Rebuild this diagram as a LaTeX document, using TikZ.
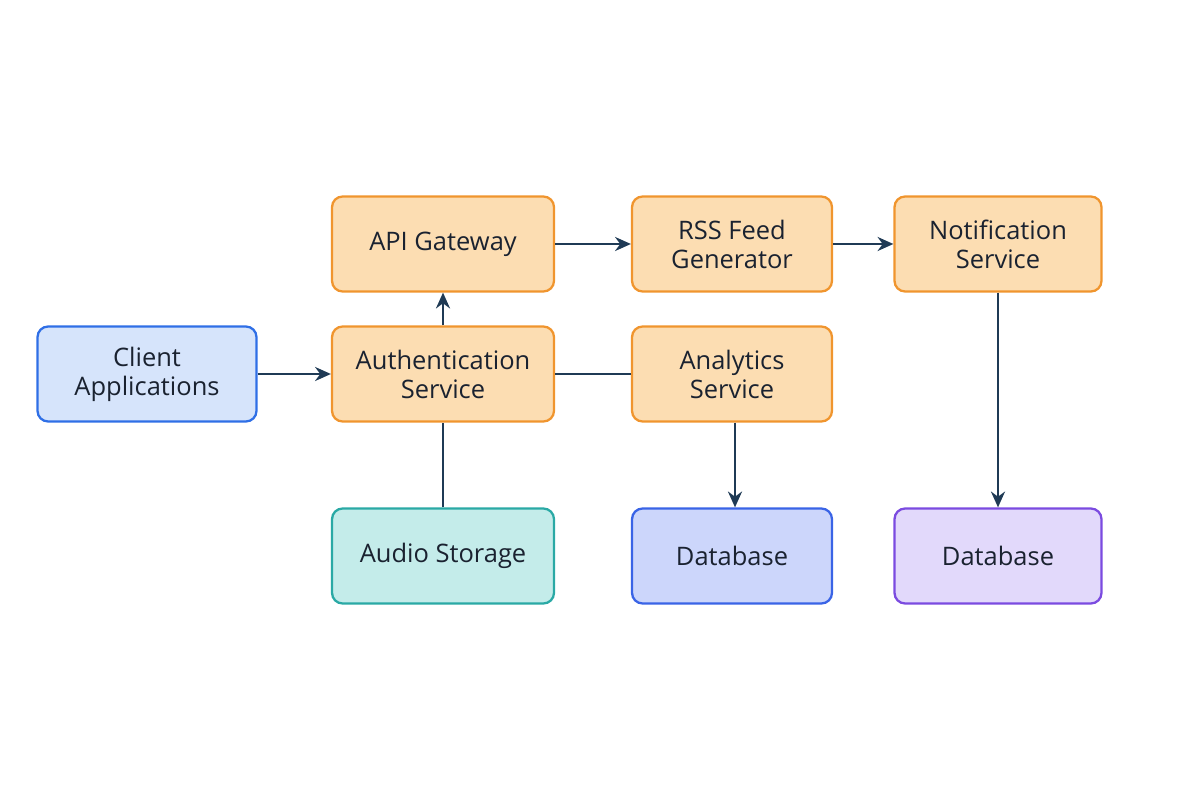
\documentclass[tikz,border=0pt]{standalone}
\usepackage{fontspec}
\setmainfont{Open Sans}
\usetikzlibrary{arrows.meta}
\definecolor{ofill}{HTML}{FCDDB2}\definecolor{odraw}{HTML}{F0952E}
\definecolor{bfill}{HTML}{D6E4FB}\definecolor{bdraw}{HTML}{2F6FE6}
\definecolor{tfill}{HTML}{C4ECEA}\definecolor{tdraw}{HTML}{2AA9A5}
\definecolor{dfill}{HTML}{CCD6FB}\definecolor{ddraw}{HTML}{3A64E6}
\definecolor{pfill}{HTML}{E2D9FB}\definecolor{pdraw}{HTML}{7B4BE0}
\definecolor{arr}{HTML}{1F3A55}
\definecolor{txt}{HTML}{1A2230}
\begin{document}
\begin{tikzpicture}[x=0.02cm,y=-0.02cm,
 box/.style={draw,line width=1.3pt,rounded corners=6pt,align=center,inner sep=0pt,font=\fontsize{14.5}{16.5}\selectfont,text=txt},
 wide/.style={box,minimum width=4.44cm,minimum height=1.9cm},
 mid/.style={box,minimum width=4cm,minimum height=1.9cm},
 wn/.style={box,minimum width=4.14cm,minimum height=1.9cm},
 cl/.style={box,minimum width=4.38cm,minimum height=1.9cm},
 orange/.style={fill=ofill,draw=odraw},
 a/.style={draw=arr,line width=1.3pt,-{Stealth[length=9pt,width=8pt]}},
 l/.style={draw=arr,line width=1.3pt}]
\useasboundingbox (0,0) rectangle (1200,800);
\node[cl,fill=bfill,draw=bdraw] (client) at (147,374) {Client\\Applications};
\node[wide,orange] (api) at (443,244) {API Gateway};
\node[mid,orange] (rss) at (732,244) {RSS Feed\\Generator};
\node[wn,orange] (notif) at (998,244) {Notification\\Service};
\node[wide,orange] (auth) at (443,374) {Authentication\\Service};
\node[mid,orange] (ana) at (732,374) {Analytics\\Service};
\node[wide,fill=tfill,draw=tdraw] (audio) at (443,556) {Audio Storage};
\node[mid,fill=dfill,draw=ddraw] (db1) at (732,556) {Database};
\node[wn,fill=pfill,draw=pdraw] (db2) at (998,556) {Database};
\draw[a] (client) -- (auth);
\draw[a] (auth) -- (api);
\draw[a] (api) -- (rss);
\draw[a] (rss) -- (notif);
\draw[l] (auth) -- (ana);
\draw[l] (audio) -- (auth);
\draw[a] (ana.south) ++(3,0) coordinate (s1) -- (s1 |- db1.north);
\draw[a] (notif) -- (db2);
\end{tikzpicture}
\end{document}
